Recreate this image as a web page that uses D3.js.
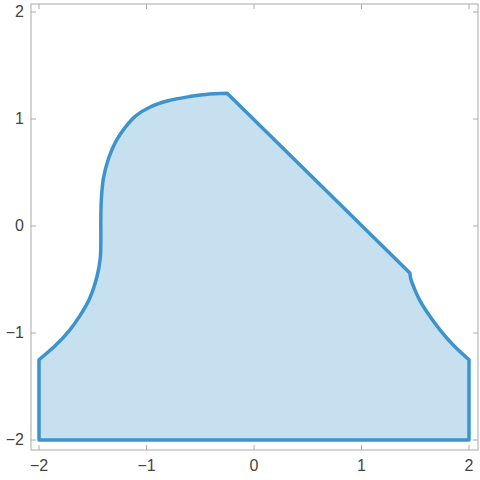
<!DOCTYPE html>
<html>
<head>
<script src="https://d3js.org/d3.v7.min.js"></script>
<style>
body { margin: 0; background: #fff; }
text { font-family: "Liberation Sans", Arial, sans-serif; font-size: 16px; fill: #444; }
</style>
</head>
<body>
<div id="chart"></div>
<script>
  var xTicks = [-2, -1, 0, 1, 2];
  var yTicks = [-2, -1, 0, 1, 2];
  // boundary pieces, traced counter-clockwise from bottom left
  var bottomEdge = [[-2, -2], [2, -2], [2, -1.25]];
  var rightCurve = [[2, -1.25], [1.86, -1.12], [1.73, -0.97], [1.62, -0.82], [1.54, -0.69], [1.49, -0.58], [1.46, -0.5], [1.45, -0.44]];
  var diagonal = [[1.45, -0.44], [-0.25, 1.24]];
  var topCurve = [[-0.25, 1.24], [-0.45, 1.23], [-0.6, 1.21], [-0.8, 1.17], [-0.97, 1.11], [-1.1, 1.03], [-1.2, 0.92], [-1.28, 0.8], [-1.35, 0.64], [-1.4, 0.45], [-1.42, 0.25], [-1.425, 0.05], [-1.425, -0.15], [-1.43, -0.3], [-1.46, -0.47], [-1.53, -0.68], [-1.62, -0.84], [-1.72, -0.98], [-1.85, -1.12], [-2, -1.25]];

  var width = 480, height = 480;
  var svg = d3.select("#chart").append("svg").attr("width", width).attr("height", height);

  var x = d3.scaleLinear().domain([-2, 2]).range([39, 469]);
  var y = d3.scaleLinear().domain([-2, 2]).range([440, 12]);

  svg.append("rect").attr("x", 31).attr("y", 4).attr("width", 447).attr("height", 446)
    .attr("fill", "none").attr("stroke", "#aaa").attr("stroke-width", 1);

  var straight = d3.line().x(function(d) { return x(d[0]); }).y(function(d) { return y(d[1]); });
  var smooth = d3.line().x(function(d) { return x(d[0]); }).y(function(d) { return y(d[1]); })
    .curve(d3.curveCatmullRom.alpha(0.5));
  function cont(s) { return "L" + s.slice(1); }

  var d = straight(bottomEdge) + cont(smooth(rightCurve)) + cont(straight(diagonal)) + cont(smooth(topCurve)) + "Z";

  svg.append("path").attr("d", d)
    .attr("fill", "#c6e0ef").attr("stroke", "#3d94cc").attr("stroke-width", 3.5)
    .attr("stroke-linejoin", "round");

  xTicks.forEach(function(t) {
    svg.append("line").attr("x1", x(t)).attr("x2", x(t)).attr("y1", 450).attr("y2", 445).attr("stroke", "#aaa");
    svg.append("line").attr("x1", x(t)).attr("x2", x(t)).attr("y1", 4).attr("y2", 9).attr("stroke", "#aaa");
    svg.append("text").attr("x", x(t)).attr("y", 471).attr("text-anchor", "middle")
      .text(t < 0 ? "\u2212" + (-t) : t);
  });
  yTicks.forEach(function(t) {
    svg.append("line").attr("x1", 31).attr("x2", 36).attr("y1", y(t)).attr("y2", y(t)).attr("stroke", "#aaa");
    svg.append("line").attr("x1", 478).attr("x2", 473).attr("y1", y(t)).attr("y2", y(t)).attr("stroke", "#aaa");
    svg.append("text").attr("x", 24).attr("y", y(t) + 5).attr("text-anchor", "end")
      .text(t < 0 ? "\u2212" + (-t) : t);
  });
</script>
</body>
</html>
